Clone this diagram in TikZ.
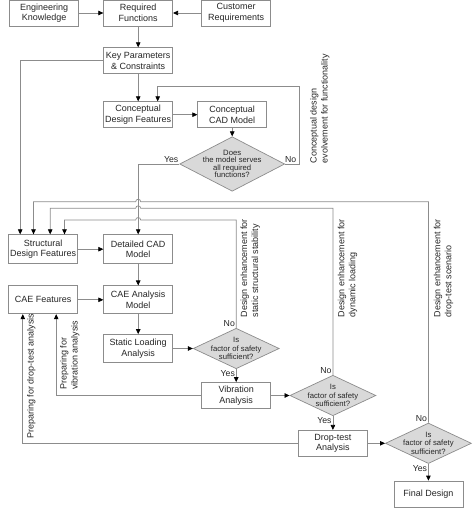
\documentclass[tikz,border=0pt]{standalone}
\usepackage{fontspec}
\setmainfont{Liberation Sans}
\usetikzlibrary{shapes.geometric,arrows.meta}
\definecolor{linegray}{gray}{0.55}
\definecolor{textgray}{gray}{0.15}
\definecolor{diafill}{gray}{0.85}
\tikzstyle{box} = [draw=linegray, fill=white, text=textgray, align=center, minimum width=69pt, minimum height=26pt, inner sep=1pt, font=\fontsize{9}{10.5}\selectfont]
\tikzstyle{decision} = [diamond, draw=linegray, fill=diafill, text=textgray, align=center, inner sep=-8pt, minimum width=86pt, minimum height=38pt, font=\fontsize{7.7}{8.3}\selectfont]
\tikzstyle{note} = [rotate=90, anchor=north west, align=left, inner sep=0.5pt, text=textgray, font=\fontsize{9}{11}\selectfont]
\tikzstyle{answer} = [text=textgray, inner sep=1pt, font=\fontsize{8.7}{10}\selectfont]

\begin{document}
\begin{tikzpicture}[>={Triangle[length=5pt,width=4.5pt,color=black]},node distance=94pt,line width=0.7pt]
  \useasboundingbox (-138.2pt,13pt) rectangle (335.8pt,-495pt);
  \node[box] (reqf) {Required\\Functions};
  \node[box,left of=reqf] (engk) {Engineering\\Knowledge};
  \node[box,right of=reqf,node distance=98pt] (custr) {Customer\\Requirements};
  \node[box,below of=reqf,node distance=47.7pt] (keyp) {Key Parameters\\\& Constraints};
  \node[box,below of=keyp,node distance=54pt] (cdf) {Conceptual\\Design Features};
  \node[box,right of=cdf] (ccad) {Conceptual\\CAD Model};
  \node[decision,below of=ccad,node distance=49.3pt,minimum width=105pt,minimum height=41pt,font=\fontsize{7.7}{7.5}\selectfont] (dfun) {Does\\the model serves\\all required\\functions?};

  \node[box,below of=cdf,node distance=134.5pt,minimum height=29pt] (dcad) {Detailed CAD\\Model};
  \node[box,left of=dcad,node distance=95pt,minimum height=29pt] (sdf) {Structural\\Design Features};
  \node[box,below of=dcad,node distance=50.6pt,minimum height=28pt] (caem) {CAE Analysis\\Model};
  \node[box,left of=caem,node distance=95pt,minimum height=28pt] (caef) {CAE Features};
  \node[box,below of=caem,node distance=48.7pt,minimum height=28pt] (sla) {Static Loading\\Analysis};
  \node[decision,right of=sla,node distance=98pt,minimum height=40pt] (dstat) {Is\\factor of safety\\sufficient?};
  \node[box,below of=dstat,node distance=47pt] (vib) {Vibration\\Analysis};
  \node[decision,right of=vib,node distance=96.7pt] (dvib) {Is\\factor of safety\\sufficient?};
  \node[box,below of=dvib,node distance=47.8pt] (dta) {Drop-test\\Analysis};
  \node[decision,right of=dta,node distance=95.5pt,minimum height=37pt] (ddrop) {Is\\factor of safety\\sufficient?};
  \node[box,below of=ddrop,node distance=50.7pt] (final) {Final Design};

  % bends and rows of the feedback lines
  \coordinate (evol) at (161.1pt,-73pt);
  \coordinate (fbs) at (0pt,-207pt);
  \coordinate (fbd) at (0pt,-195.3pt);
  \coordinate (fbt) at (0pt,-188.7pt);
  \coordinate (lbl) at (0pt,-305pt);

  \node[note] (noteconc) at ([xshift=10pt]evol |- dfun.east) {Conceptual design\\evolvement for functionality};
  \node[note] (notestat) at ([xshift=3.5pt]dstat.north |- lbl) {Design enhancement for\\static structural stability};
  \node[note] (notedyn) at ([xshift=4pt]dvib.north |- lbl) {Design enhancement for\\dynamic loading};
  \node[note] (notedrop) at ([xshift=4.5pt]ddrop.north |- lbl) {Design enhancement for\\drop-test scenario};
  \node[note] (notevib) at ([xshift=16pt,yshift=5pt]caef.south |- vib.west) {Preparing for\\vibration analysis};
  \node[note] (notedt) at ([xshift=-17pt,yshift=3.5pt]caef.south |- dta.west) {Preparing for drop-test analysis};

  \begin{scope}[every path/.style={draw=linegray}]
    \path[->] (engk) -- (reqf);
    \path[->] (custr) -- (reqf);
    \path[->] (reqf) -- (keyp);
    \path[->] (keyp) -- (cdf);
    \path[->] (cdf) -- (ccad);
    \path[->] (ccad) -- (dfun);
    \path[->] (dfun.east) -| node[answer,pos=0.2,above] {No} (evol) -| ([xshift=19.5pt]cdf.north);
    \path[->] (dfun.west) -| node[answer,pos=0.1,above] {Yes} (dcad.north);
    \path[->] (keyp.west) -| ([xshift=-23pt]sdf.north);
    \path[->] (sdf) -- (dcad);
    \path[->] (dcad) -- (caem);
    \path[->] (caef) -- (caem);
    \path[->] (caem) -- (sla);
    \path[->] (sla) -- (dstat);
    \path[->] (dstat.south) node[answer,below left] {Yes} -- (vib.north);
    \path[->] (vib) -- (dvib);
    \path[->] (dvib.south) node[answer,below left] {Yes} -- (dta.north);
    \path[->] (dta) -- (ddrop);
    \path[->] (ddrop.south) node[answer,below left] {Yes} -- (final.north);
    \path[->] (dstat.north) node[answer,above left] {No} -- (dstat.north |- fbs)
      -- ([xshift=2.5pt]dcad.north |- fbs) arc[start angle=0,end angle=180,radius=2.5pt]
      -| ([xshift=21.3pt]sdf.north);
    \path[->] (dvib.north) node[answer,above left] {No} -- (dvib.north |- fbd)
      -- ([xshift=2.5pt]dcad.north |- fbd) arc[start angle=0,end angle=180,radius=2.5pt]
      -| ([xshift=7pt]sdf.north);
    \path[->] (ddrop.north) node[answer,above left] {No} -- (ddrop.north |- fbt)
      -- ([xshift=2.5pt]dcad.north |- fbt) arc[start angle=0,end angle=180,radius=2.5pt]
      -| ([xshift=-9.7pt]sdf.north);
    \path[->] (vib.west) -| ([xshift=13pt]caef.south);
    \path[->] (dta.west) -| ([xshift=-20.4pt]caef.south);
  \end{scope}
\end{tikzpicture}
\end{document}
